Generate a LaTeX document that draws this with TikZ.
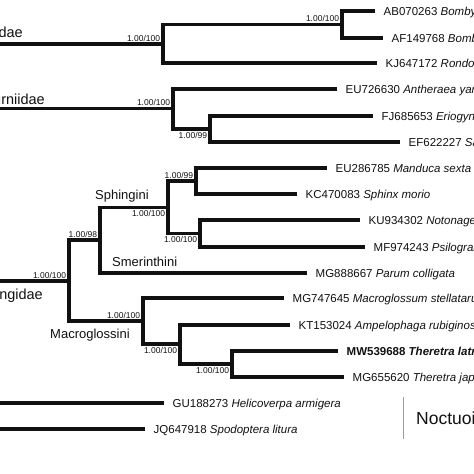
\documentclass[tikz,border=0pt]{standalone}
\usepackage{fontspec}
\setmainfont{Liberation Sans}
\usetikzlibrary{positioning}
\definecolor{ink}{HTML}{111111}
\definecolor{rule}{HTML}{9A9A9A}
\tikzset{
  branch/.style={line width=3.2bp,draw=ink,line join=miter,line cap=butt},
  taxon/.style={anchor=west,inner xsep=8.5bp,inner ysep=0pt,text=ink,
                font=\fontsize{11.5bp}{13bp}\selectfont,text height=8.2bp,text depth=0pt},
  support/.style={inner sep=1.2bp,xshift=-1.5bp,text=ink,font=\fontsize{8.5bp}{10bp}\selectfont},
  supup/.style={support,anchor=south east,yshift=1.5bp},
  supdown/.style={support,anchor=north east,yshift=-1.5bp},
  clade/.style={inner sep=0pt,anchor=west,text=ink,
                font=\fontsize{13bp}{15bp}\selectfont,text height=9.3bp,text depth=0pt},
  family/.style={clade,anchor=east,font=\fontsize{14.5bp}{16bp}\selectfont,text height=10.4bp},
  superfam/.style={inner sep=0pt,anchor=west,text=ink,
                   font=\fontsize{17.5bp}{20bp}\selectfont,text height=12.5bp,text depth=0pt},
  sidebar/.style={line width=1bp,draw=rule}
}

\begin{document}
\begin{tikzpicture}[x=1bp,y=-1bp]
    \useasboundingbox (0,0) rectangle (474,474);
    \clip (0,0) rectangle (474,474);
    % inner nodes
    \coordinate (root) at (-60,250);
    \coordinate (bomb) at (163,44);
    \coordinate (bombyx) at (342,24.5);
    \coordinate (satu) at (173,108.5);
    \coordinate (sat2) at (210,129);
    \coordinate (sphi) at (69,281);
    \coordinate (sph98) at (100,240);
    \coordinate (sphingini) at (168,207.5);
    \coordinate (sph99) at (196,181);
    \coordinate (sph100) at (200,233.5);
    \coordinate (macro) at (143,321);
    \coordinate (mac2) at (180,344);
    \coordinate (mac3) at (232,364);
    % tips
    \node[taxon] (bman) at (375,11) {AB070263 \textit{Bombyx mandarina}};
    \node[taxon] (bmor) at (383,38) {AF149768 \textit{Bombyx mori}};
    \node[taxon] (rmen) at (377,63) {KJ647172 \textit{Rondotia menciana}};
    \node[taxon] (ayam) at (337,89) {EU726630 \textit{Antheraea yamamai}};
    \node[taxon] (epyr) at (373,116) {FJ685653 \textit{Eriogyna pyretorum}};
    \node[taxon] (sboi) at (400,142) {EF622227 \textit{Saturnia boisduvalii}};
    \node[taxon] (msex) at (327,168) {EU286785 \textit{Manduca sexta}};
    \node[taxon] (smor) at (297,194) {KC470083 \textit{Sphinx morio}};
    \node[taxon] (nana) at (360,220) {KU934302 \textit{Notonagemia analis}};
    \node[taxon] (pinc) at (365,247) {MF974243 \textit{Psilogramma increta}};
    \node[taxon] (pcol) at (307,273) {MG888667 \textit{Parum colligata}};
    \node[taxon] (mste) at (284,298) {MG747645 \textit{Macroglossum stellatarum}};
    \node[taxon] (arub) at (290,325) {KT153024 \textit{Ampelophaga rubiginosa}};
    \node[taxon,font=\fontsize{11.5bp}{13bp}\selectfont\bfseries] (tlat) at (338,351) {MW539688 \textit{Theretra latreillii}};
    \node[taxon] (tjap) at (344,377) {MG655620 \textit{Theretra japonica}};
    \node[taxon] (harm) at (164,403) {GU188273 \textit{Helicoverpa armigera}};
    \node[taxon] (slit) at (145,429) {JQ647918 \textit{Spodoptera litura}};
    % branches
    \draw[branch] (root) |- (bomb);
    \draw[branch] (bomb) |- (bombyx);
    \draw[branch] (bombyx) |- (bman.west);
    \draw[branch] (bombyx) |- (bmor.west);
    \draw[branch] (bomb) |- (rmen.west);
    \draw[branch] (root) |- (satu);
    \draw[branch] (satu) |- (ayam.west);
    \draw[branch] (satu) |- (sat2);
    \draw[branch] (sat2) |- (epyr.west);
    \draw[branch] (sat2) |- (sboi.west);
    \draw[branch] (root) |- (sphi);
    \draw[branch] (sphi) |- (sph98);
    \draw[branch] (sph98) |- (sphingini);
    \draw[branch] (sphingini) |- (sph99);
    \draw[branch] (sph99) |- (msex.west);
    \draw[branch] (sph99) |- (smor.west);
    \draw[branch] (sphingini) |- (sph100);
    \draw[branch] (sph100) |- (nana.west);
    \draw[branch] (sph100) |- (pinc.west);
    \draw[branch] (sph98) |- (pcol.west);
    \draw[branch] (sphi) |- (macro);
    \draw[branch] (macro) |- (mste.west);
    \draw[branch] (macro) |- (mac2);
    \draw[branch] (mac2) |- (arub.west);
    \draw[branch] (mac2) |- (mac3);
    \draw[branch] (mac3) |- (tlat.west);
    \draw[branch] (mac3) |- (tjap.west);
    \draw[branch] (root) |- (harm.west);
    \draw[branch] (root) |- (slit.west);
    % support values
    \node[supup] (s1) at (bomb) {1.00/100};
    \node[supup] (s2) at (bombyx) {1.00/100};
    \node[supup] (s3) at (satu) {1.00/100};
    \node[supdown] (s4) at (sat2) {1.00/99};
    \node[supup] (s5) at (sphi) {1.00/100};
    \node[supup] (s6) at (sph98) {1.00/98};
    \node[supdown] (s7) at (sphingini) {1.00/100};
    \node[supup] (s8) at (sph99) {1.00/99};
    \node[supdown] (s9) at (sph100) {1.00/100};
    \node[supup] (s10) at (macro) {1.00/100};
    \node[supdown] (s11) at (mac2) {1.00/100};
    \node[supdown] (s12) at (mac3) {1.00/100};
    % clade names
    \node[family] (fbomb) at (23,32) {Bombycidae};
    \node[family] (fsatu) at (45,99) {Saturniidae};
    \node[family] (fsphi) at (43,294) {Sphingidae};
    \node[clade] (tsphingini) at (95,195) {Sphingini};
    \node[clade] (tsmer) at (112,261.5) {Smerinthini};
    \node[clade] (tmacro) at (50,333.5) {Macroglossini};
    \coordinate (barTop) at (403,397);
    \coordinate (barBot) at (403,439);
    \draw[sidebar] (barTop) -- (barBot);
    \node[superfam] (noct) at (416,418.5) {Noctuoidea};
\end{tikzpicture}
\end{document}
